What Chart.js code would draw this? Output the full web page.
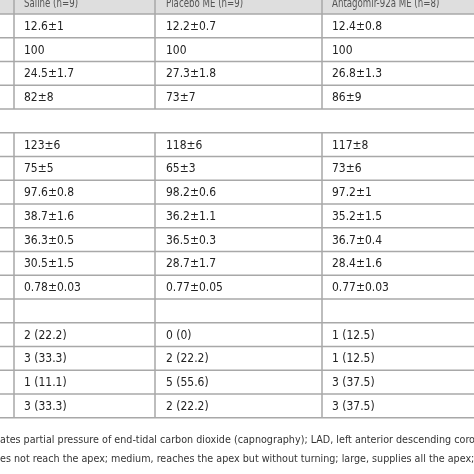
<!DOCTYPE html>
<html>
<head>
<meta charset="utf-8">
<script src="https://cdn.jsdelivr.net/npm/chart.js@4.4.0/dist/chart.umd.min.js"></script>
<style>
  html, body { margin: 0; padding: 0; background: #fff; }
  #wrap { width: 474px; height: 474px; }
</style>
</head>
<body>
<div id="wrap"><canvas id="js--chart"></canvas></div>
<script>
const groups = ["Saline (n=9)", "Placebo ME (n=9)", "Antagomir-92a ME (n=8)"];

const saline = ["12.6\u00b11", "100", "24.5\u00b11.7", "82\u00b18", null,
    "123\u00b16", "75\u00b15", "97.6\u00b10.8", "38.7\u00b11.6", "36.3\u00b10.5", "30.5\u00b11.5", "0.78\u00b10.03", "",
    "2 (22.2)", "3 (33.3)", "1 (11.1)", "3 (33.3)"];
const placebo = ["12.2\u00b10.7", "100", "27.3\u00b11.8", "73\u00b17", null,
    "118\u00b16", "65\u00b13", "98.2\u00b10.6", "36.2\u00b11.1", "36.5\u00b10.3", "28.7\u00b11.7", "0.77\u00b10.05", "",
    "0 (0)", "2 (22.2)", "5 (55.6)", "2 (22.2)"];
const antagomir = ["12.4\u00b10.8", "100", "26.8\u00b11.3", "86\u00b19", null,
    "117\u00b18", "73\u00b16", "97.2\u00b11", "35.2\u00b11.5", "36.7\u00b10.4", "28.4\u00b11.6", "0.77\u00b10.03", "",
    "1 (12.5)", "1 (12.5)", "3 (37.5)", "3 (37.5)"];

const footnotes = [
    "ates partial pressure of end-tidal carbon dioxide (capnography); LAD, left anterior descending coronary a",
    "es not reach the apex; medium, reaches the apex but without turning; large, supplies all the apex; LAD that"
];

// layout in page units (scale 0..474)
const colEdges = [14, 155, 322];
const textX = [24, 166, 332];
const headerBottom = 14;
const rowH = 23.75;
const FONT = "'DejaVu Sans Condensed', 'Liberation Sans Narrow', sans-serif";

// draw text squeezed horizontally, the reference uses a condensed face
function fillCond(ctx, text, x, y, sx) {
    ctx.save();
    ctx.translate(x, y);
    ctx.scale(sx, 1);
    ctx.fillText(text, 0, 0);
    ctx.restore();
}

const tablePlugin = {
    id: 'table',
    afterDraw(chart) {
        const ctx = chart.ctx;
        const x = chart.scales.x, y = chart.scales.y;
        const px = v => x.getPixelForValue(v);
        const py = v => y.getPixelForValue(v);
        const nRows = saline.length;
        const bottom = headerBottom + rowH * nRows;

        ctx.save();
        // header band
        ctx.fillStyle = '#dedede';
        ctx.fillRect(px(0), py(0), px(474) - px(0), py(headerBottom) - py(0));
        ctx.fillStyle = '#555';
        ctx.font = "12px " + FONT;
        ctx.textBaseline = 'middle';
        groups.forEach((g, i) => fillCond(ctx, g, px(textX[i]), py(4), 0.8));

        // horizontal lines
        ctx.strokeStyle = '#a8a8a8';
        ctx.lineWidth = 1.5;
        for (let r = 0; r <= nRows; r++) {
            const yy = py(headerBottom + r * rowH);
            ctx.beginPath(); ctx.moveTo(px(0), yy); ctx.lineTo(px(474), yy); ctx.stroke();
        }
        // vertical lines per row (skip gap rows)
        ctx.beginPath();
        colEdges.forEach(c => { ctx.moveTo(px(c), py(0)); ctx.lineTo(px(c), py(headerBottom)); });
        ctx.stroke();
        for (let r = 0; r < nRows; r++) {
            if (saline[r] === null) continue;
            const y0 = py(headerBottom + r * rowH), y1 = py(headerBottom + (r + 1) * rowH);
            ctx.beginPath();
            colEdges.forEach(c => { ctx.moveTo(px(c), y0); ctx.lineTo(px(c), y1); });
            ctx.stroke();
        }

        // cell text
        ctx.fillStyle = '#222';
        ctx.font = "13px " + FONT;
        [saline, placebo, antagomir].forEach((col, i) => {
            col.forEach((t, r) => {
                if (!t) return;
                fillCond(ctx, t, px(textX[i]), py(headerBottom + (r + 0.5) * rowH + 0.5), 0.92);
            });
        });

        // footnotes
        ctx.font = "11px " + FONT;
        ctx.fillStyle = '#333';
        footnotes.forEach((f, i) => fillCond(ctx, f, px(0), py(bottom + 22 + i * 19), 0.97));
        ctx.restore();
    }
};

new Chart(document.getElementById("js--chart"), {
    type: 'scatter',
    data: { datasets: [{ data: [], pointRadius: 0 }] },
    options: {
        responsive: true,
        maintainAspectRatio: false,
        animation: false,
        layout: { padding: 0 },
        plugins: { legend: { display: false }, tooltip: { enabled: false } },
        scales: {
            x: { type: 'linear', min: 0, max: 474, display: false },
            y: { type: 'linear', min: 0, max: 474, reverse: true, display: false }
        }
    },
    plugins: [tablePlugin]
});
</script>
</body>
</html>
